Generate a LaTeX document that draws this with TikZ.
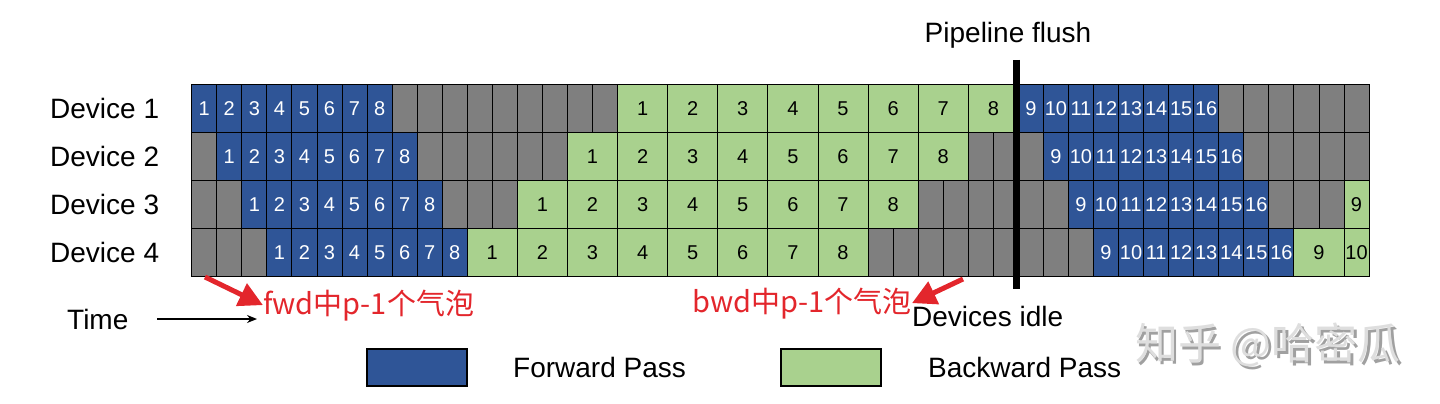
\documentclass[tikz,border=0pt]{standalone}
\usepackage{fontspec}
\setmainfont{Liberation Sans}
\newfontfamily\cjk{Noto Sans CJK SC}
\usetikzlibrary{arrows.meta}
\definecolor{fwdblue}{HTML}{2F5597}
\definecolor{bwdgreen}{HTML}{A9D18E}
\definecolor{idlegray}{HTML}{7F7F7F}
\definecolor{annred}{HTML}{E3262C}
\definecolor{wmlight}{HTML}{DEDEDE}
\definecolor{wmdark}{HTML}{A0A0A0}

\newcommand\gcell[5]{%
  \node[#4, minimum width={#3*25.05pt}] (r#1c#2) at ({191.7+(#2+#3/2)*25.05}, {84.5+(#1-0.5)*48}) {#5};}
\newcommand\fwdrun[3]{%
  \foreach \k in {0,...,7}{\pgfmathtruncatemacro\s{#2+\k}\pgfmathtruncatemacro\l{#3+\k}\gcell{#1}{\s}{1}{fwdcell}{\l}}}
\newcommand\idlerun[3]{%
  \foreach \s in {#2,...,#3}{\gcell{#1}{\s}{1}{idlecell}{}}}
\newcommand\bwdrun[2]{%
  \foreach \k in {0,...,7}{\pgfmathtruncatemacro\s{#2+2*\k}\pgfmathtruncatemacro\l{\k+1}\gcell{#1}{\s}{2}{bwdcell}{\l}}}

\begin{document}
\begin{tikzpicture}[x=1pt,y=-1pt,
  cellbase/.style={draw=black, line width=0.9pt, minimum height=48pt, inner sep=0pt,
                   font=\fontsize{20}{20}\selectfont, anchor=center},
  fwdcell/.style={cellbase, fill=fwdblue, text=white},
  bwdcell/.style={cellbase, fill=bwdgreen, text=black},
  idlecell/.style={cellbase, fill=idlegray},
  lbl/.style={font=\fontsize{28}{28}\selectfont, inner sep=0pt},
  redlbl/.style={font=\cjk\fontsize{29}{29}\selectfont, text=annred, inner sep=0pt},
  redarrow/.style={draw=annred, line width=5pt, -{Triangle[length=24pt,width=24pt]}},
  legendbox/.style={draw=black, line width=1.2pt, minimum width=100pt, minimum height=37pt, inner sep=0pt},
  wm/.style={font=\cjk\fontsize{43}{43}\selectfont, inner sep=0pt, anchor=west},
]
\useasboundingbox (0,0) rectangle (1440,404);

% Device 1
\fwdrun{1}{0}{1}
\idlerun{1}{8}{16}
\bwdrun{1}{17}
\fwdrun{1}{33}{9}
\idlerun{1}{41}{46}
% Device 2
\idlerun{2}{0}{0}
\fwdrun{2}{1}{1}
\idlerun{2}{9}{14}
\bwdrun{2}{15}
\idlerun{2}{31}{33}
\fwdrun{2}{34}{9}
\idlerun{2}{42}{46}
% Device 3
\idlerun{3}{0}{1}
\fwdrun{3}{2}{1}
\idlerun{3}{10}{12}
\bwdrun{3}{13}
\idlerun{3}{29}{34}
\fwdrun{3}{35}{9}
\idlerun{3}{43}{45}
\gcell{3}{46}{1}{bwdcell}{9}
% Device 4
\idlerun{4}{0}{2}
\fwdrun{4}{3}{1}
\bwdrun{4}{11}
\idlerun{4}{27}{35}
\fwdrun{4}{36}{9}
\gcell{4}{44}{2}{bwdcell}{9}
\gcell{4}{46}{1}{bwdcell}{10}

% device labels
\node[lbl, anchor=base west] (dev1) at (50,118) {Device 1};
\node[lbl, anchor=base west] (dev2) at (50,166) {Device 2};
\node[lbl, anchor=base west] (dev3) at (50,214) {Device 3};
\node[lbl, anchor=base west] (dev4) at (50,262) {Device 4};

% pipeline flush
\node[lbl, anchor=base] (flushlbl) at (1008,43) {Pipeline flush};
\coordinate (flushtop) at (1016.5,60);
\coordinate (flushbot) at (1016.5,289);
\draw[line width=6.5pt] (flushtop) -- (flushbot);
\node[lbl, anchor=base west] (idlelbl) at (912,326) {Devices idle};

% time
\node[lbl, anchor=base west] (timelbl) at (67,329) {Time};
\coordinate (timestart) at (157,319);
\coordinate (timeend) at (257,319);
\draw[line width=1.8pt, -{Stealth[length=10pt,width=8pt]}] (timestart) -- (timeend);

% red annotations
\node[redlbl, anchor=base west] (fwdlbl) at (263,314) {fwd中p-1个气泡};
\node[redlbl, anchor=base east] (bwdlbl) at (912,312) {bwd中p-1个气泡};
\coordinate (fwdtail) at (205,277);
\coordinate (bwdtail) at (963,279);
\draw[redarrow] (fwdtail) -- (fwdlbl.west);
\draw[redarrow] (bwdtail) -- (bwdlbl.east);

% legend
\node[legendbox, fill=fwdblue] (legf) at (417,367.5) {};
\node[lbl, anchor=west] (legftxt) at (513,367) {Forward Pass};
\node[legendbox, fill=bwdgreen] (legb) at (831,367.5) {};
\node[lbl, anchor=west] (legbtxt) at (928,367) {Backward Pass};

% watermark
\node[wm, text=wmdark] (wmshadow) at (1137.5,347.5) {知乎 @哈密瓜};
\node[wm, text=wmlight] (wmtext) at (1135,345) {知乎 @哈密瓜};
\end{tikzpicture}
\end{document}
